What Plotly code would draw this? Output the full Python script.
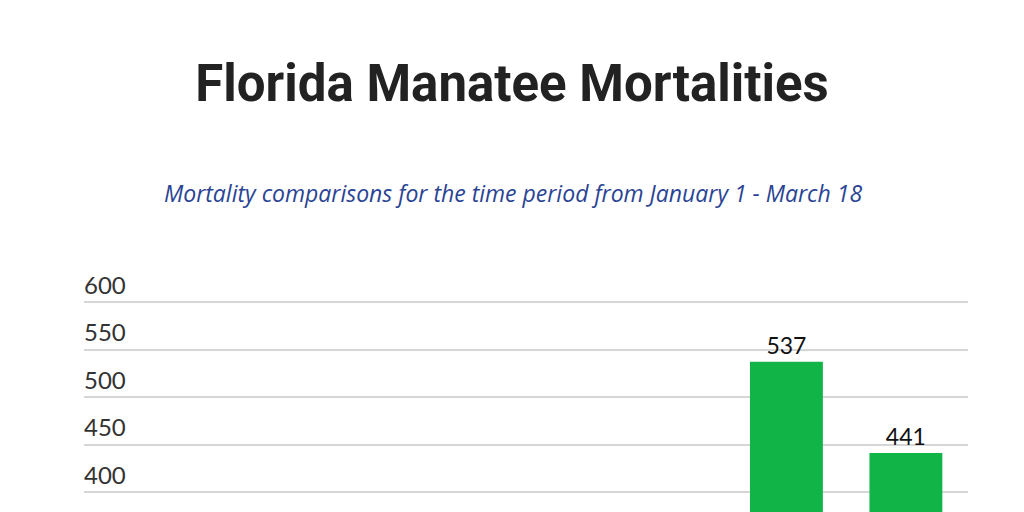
import plotly.graph_objects as go

years = ["2016", "2017", "2018", "2019", "2020", "2021", "2022"]
deaths = [97, 108, 158, 125, 130, 537, 441]
y_ticks = [400, 450, 500, 550, 600]

fig = go.Figure(go.Bar(
    x=years, y=deaths,
    marker=dict(color="#10b447", line=dict(width=0)),
    width=0.61,
    text=[str(v) for v in deaths],
    textposition="outside",
    textfont=dict(family="Lato", size=23, color="#111111"),
    cliponaxis=False,
    hoverinfo="x+y",
))

W, H = 1016, 504
TOP = 237
fig.update_layout(
    width=W, height=H,
    margin=dict(l=76, r=56, t=TOP, b=0),
    paper_bgcolor="white", plot_bgcolor="white",
    showlegend=False,
    title=dict(
        text="<b>Florida Manatee Mortalities</b>",
        font=dict(family="Roboto", size=51, color="#222222"),
        x=504 / W, xanchor="center", xref="container",
        y=1 - 75 / H, yanchor="middle", yref="container",
    ),
    annotations=[dict(
        text="<i>Mortality comparisons for the time period from January 1 - March 18</i>",
        font=dict(family="Open Sans", size=23, color="#2a4494"),
        x=(513 - 84) / 884, xanchor="center", xref="paper",
        y=(H - 185) / (H - TOP), yanchor="middle", yref="paper",
        showarrow=False,
    )],
    xaxis=dict(
        range=[-0.88, 6.52],
        showgrid=False, showticklabels=False, zeroline=False, showline=False,
        fixedrange=True,
    ),
    yaxis=dict(
        range=[379, 660],
        tickvals=y_ticks,
        ticktext=[str(v) for v in y_ticks],
        ticklabelposition="inside top",
        ticklabelstandoff=-3,
        ticks="",
        tickfont=dict(family="Lato", size=24, color="#333333"),
        showgrid=True, gridcolor="#d6d6d6", gridwidth=2,
        zeroline=False, showline=False,
        fixedrange=True,
    ),
    bargap=0.39,
)

fig.write_html("out.html")
